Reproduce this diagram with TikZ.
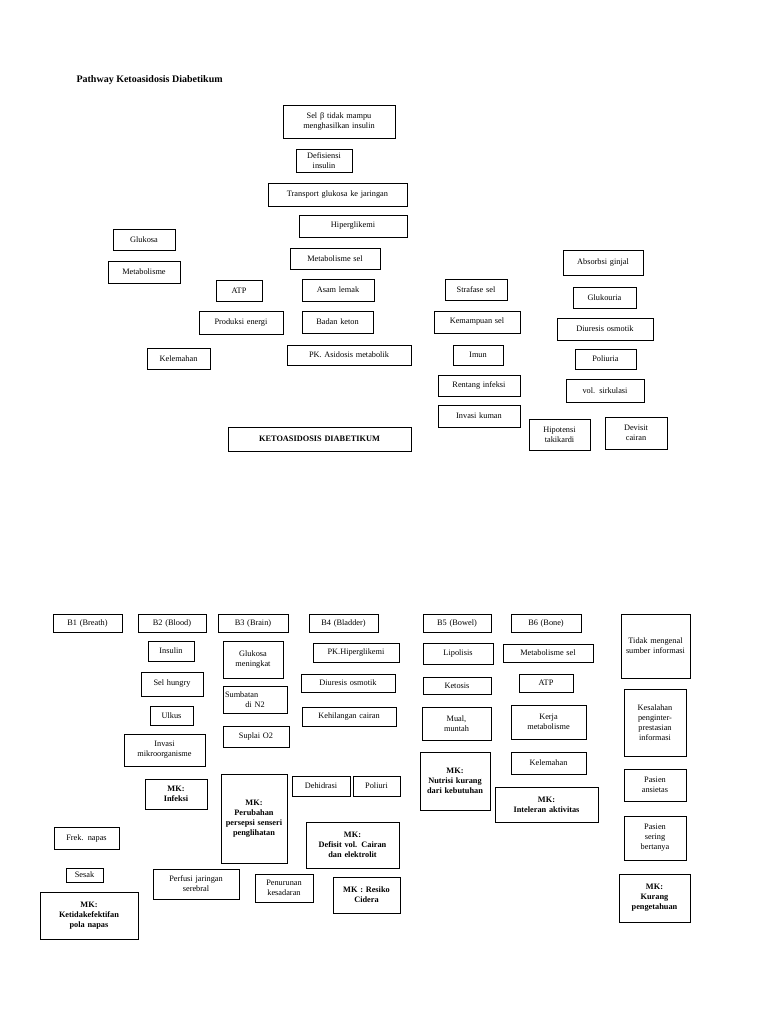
\documentclass[tikz,border=0pt]{standalone}
\usepackage{fontspec}
\setmainfont{Liberation Serif}
\tikzset{bx/.style={draw,line width=0.8pt,inner sep=1pt,align=center,font=\fontsize{8.3}{10}\selectfont},
bb/.style={bx,line width=1pt,font=\fontsize{8.3}{10}\selectfont\bfseries}}
\newcommand{\bx}[7][bx]{\node[#1,minimum width={(#5-#3)*1pt},minimum height={(#6-#4)*1pt},text width={(#5-#3-4)*1pt}] (#2) at ({(#3+#5)/2},{(#4+#6)/2}) {#7};}
\begin{document}
\begin{tikzpicture}[x=1pt,y=-1pt]
\useasboundingbox (0,0) rectangle (768,1024);
\node[anchor=west,font=\fontsize{10}{12}\selectfont\bfseries] (title) at (73,80) {Pathway Ketoasidosis Diabetikum};
\bx{sel}{283}{105}{395}{138}{Sel β tidak mampu\\menghasilkan insulin}
\bx{def}{296}{149}{352}{172}{Defisiensi insulin}
\bx{trans}{268}{183}{407}{206}{Transport glukosa ke jaringan}
\bx{hiper}{299}{215}{407}{237}{\raggedright Hiperglikemi}
\bx{gluk}{113}{229}{175}{250}{\raggedright Glukosa}
\bx{meta}{108}{261}{180}{283}{\raggedright Metabolisme}
\bx{metsel}{290}{248}{380}{269}{Metabolisme sel}
\bx{atp}{216}{280}{262}{301}{ATP}
\bx{asam}{302}{279}{374}{301}{Asam lemak}
\bx{prod}{199}{311}{283}{334}{Produksi energi}
\bx{badan}{302}{311}{373}{333}{Badan keton}
\bx{kelem}{147}{348}{210}{369}{Kelemahan}
\bx{pk}{287}{345}{411}{365}{PK. Asidosis metabolik}
\bx{straf}{445}{279}{507}{300}{Strafase sel}
\bx{kemamp}{434}{311}{520}{333}{Kemampuan sel}
\bx{imun}{453}{345}{503}{365}{Imun}
\bx{rentang}{438}{375}{520}{396}{Rentang infeksi}
\bx{invasi}{438}{405}{520}{427}{Invasi kuman}
\bx{absorb}{563}{250}{643}{275}{Absorbsi ginjal}
\bx{glukour}{573}{287}{636}{308}{Glukouria}
\bx{diur}{557}{318}{653}{340}{Diuresis osmotik}
\bx{poli}{575}{349}{636}{369}{Poliuria}
\bx{vol}{566}{379}{644}{402}{vol. sirkulasi}
\bx{hipot}{529}{419}{590}{450}{Hipotensi\\takikardi}
\bx{devisit}{605}{417}{667}{449}{Devisit\\cairan}
\bx[bb]{keto}{228}{427}{411}{451}{KETOASIDOSIS DIABETIKUM}
% bottom
\bx{b1}{53}{614}{122}{632}{B1 (Breath)}
\bx{b2}{138}{614}{206}{632}{B2 (Blood)}
\bx{b3}{218}{614}{288}{632}{B3 (Brain)}
\bx{b4}{309}{614}{378}{632}{B4 (Bladder)}
\bx{b5}{423}{614}{491}{632}{B5 (Bowel)}
\bx{b6}{511}{614}{581}{632}{B6 (Bone)}
\bx{ins}{148}{641}{194}{661}{Insulin}
\bx{glm}{223}{641}{283}{678}{Glukosa\\meningkat}
\bx{pkh}{313}{643}{399}{662}{PK.Hiperglikemi}
\bx{selh}{141}{672}{203}{696}{Sel hungry}
\bx{sumb}{223}{686}{287}{713}{\raggedright Sumbatan\\di N2}
\bx{diur2}{301}{674}{395}{692}{Diuresis osmotik}
\bx{ulkus}{150}{706}{193}{725}{Ulkus}
\bx{kehil}{302}{707}{396}{726}{Kehilangan cairan}
\bx{supl}{223}{726}{289}{747}{Suplai O2}
\bx{invm}{124}{734}{205}{766}{Invasi\\mikroorganisme}
\bx[bb]{mkinf}{145}{779}{207}{809}{MK:\\Infeksi}
\bx[bb]{mkpers}{221}{774}{287}{863}{MK:\\Perubahan persepsi senseri penglihatan}
\bx{dehid}{292}{776}{350}{796}{Dehidrasi}
\bx{poliuri}{353}{776}{400}{796}{Poliuri}
\bx[bb]{mkdef}{306}{822}{399}{868}{MK:\\Defisit vol. Cairan dan elektrolit}
\bx{frek}{54}{827}{119}{849}{Frek. napas}
\bx{sesak}{66}{868}{103}{882}{Sesak}
\bx{perf}{153}{869}{239}{899}{Perfusi jaringan\\serebral}
\bx{penur}{255}{874}{313}{902}{Penurunan\\kesadaran}
\bx[bb]{mkres}{333}{877}{400}{913}{MK : Resiko\\Cidera}
\bx[bb]{mkket}{40}{892}{138}{939}{MK:\\Ketidakefektifan pola napas}
\bx{lipo}{423}{643}{493}{664}{Lipolisis}
\bx{metsel2}{503}{644}{593}{662}{Metabolisme sel}
\bx{ketos}{423}{677}{491}{694}{Ketosis}
\bx{atp2}{519}{674}{573}{692}{ATP}
\bx{mual}{422}{707}{491}{740}{Mual,\\muntah}
\bx{kerja}{511}{705}{586}{739}{Kerja\\metabolisme}
\bx[bb]{mknut}{420}{752}{490}{810}{MK:\\Nutrisi kurang dari kebutuhan}
\bx{kelem2}{511}{752}{586}{774}{Kelemahan}
\bx[bb]{mkint}{495}{787}{598}{822}{MK:\\Inteleran aktivitas}
\bx{tidak}{621}{614}{690}{678}{Tidak mengenal sumber informasi}
\bx{kesal}{624}{689}{686}{756}{Kesalahan penginter-prestasian informasi}
\bx{ansi}{624}{769}{686}{801}{Pasien\\ansietas}
\bx{sering}{624}{816}{686}{860}{Pasien\\sering\\bertanya}
\bx[bb]{mkkur}{619}{874}{690}{922}{MK:\\Kurang pengetahuan}
\end{tikzpicture}
\end{document}
